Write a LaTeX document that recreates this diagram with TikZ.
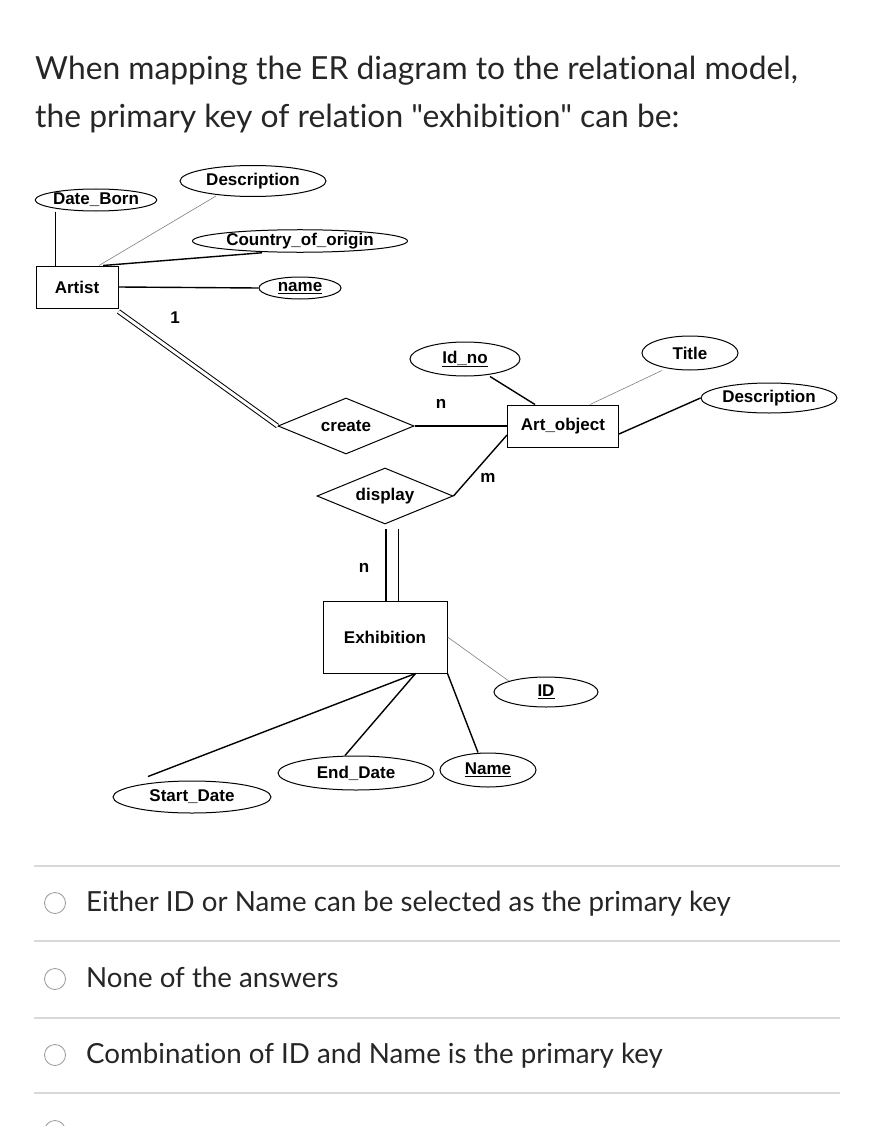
\documentclass[tikz,border=0pt]{standalone}
\usepackage{fontspec}
\newfontfamily\lato{Lato}[Ligatures={NoCommon,NoDiscretionary,NoContextual}]
\newfontfamily\erf{Liberation Sans}
\usetikzlibrary{shapes.geometric}
\begin{document}
\begin{tikzpicture}[x=1pt,y=-1pt,
  er/.style={font=\erf\bfseries\fontsize{17}{19}\selectfont, inner sep=0pt},
  att/.style={er, ellipse, draw, line width=1pt},
  ent/.style={er, rectangle, draw, line width=1pt},
  rel/.style={er, diamond, draw, line width=1pt, aspect=2.4},
  ln/.style={line width=1.4pt},
  thin/.style={line width=0.6pt, gray},
  dbl/.style={double, double distance=3pt, line width=1pt},
  card/.style={er},
  q/.style={font=\lato\fontsize{31.8}{36}\selectfont, text=black!85, anchor=base west, inner sep=0pt},
  opt/.style={font=\lato\fontsize{27.7}{30}\selectfont, text=black!85, anchor=base west, inner sep=0pt},
  sep/.style={line width=1.3pt, black!15},
  radio/.style={circle, draw=black!40, line width=0.8pt, minimum size=21pt, inner sep=0pt}]
\useasboundingbox (0,0) rectangle (878,1126);
\fill[white] (0,0) rectangle (878,1126);
\node[q] (t1) at (35,80) {When mapping the ER diagram to the relational model,};
\node[q] (t2) at (35,128) {the primary key of relation "exhibition" can be:};

\node[att, minimum width=120pt, minimum height=22pt] (db) at (96,200) {Date\_Born};
\node[att, minimum width=146pt, minimum height=31pt] (desc) at (253,181) {Description};
\node[att, minimum width=215pt, minimum height=22pt] (coo) at (300,241) {Country\_of\_origin};
\node[ent, minimum width=82pt, minimum height=42pt] (artist) at (77,287) {Artist};
\node[att, minimum width=82pt, minimum height=22pt] (name) at (300,288) {\underline{name}};
\node[card] (c1) at (175,318) {1};
\node[rel, minimum width=136pt, minimum height=56pt] (create) at (346,426) {create};
\node[att, minimum width=110pt, minimum height=34pt] (idno) at (465,359) {\underline{Id\_no}};
\node[card] (cn1) at (441,404) {n};
\node[ent, minimum width=111pt, minimum height=42pt] (art) at (563,426) {Art\_object};
\node[att, minimum width=96pt, minimum height=34pt] (title) at (690,353) {Title};
\node[att, minimum width=136pt, minimum height=30pt] (desc2) at (769,398) {Description};
\node[rel, minimum width=136pt, minimum height=56pt] (display) at (385,496) {display};
\node[card] (cm) at (488,478) {m};
\node[card] (cn2) at (364,568) {n};
\node[ent, minimum width=124pt, minimum height=72pt] (exh) at (385,637) {};
\node[er] (exhl) at (385,637) {Exhibition};
\node[att, minimum width=104pt, minimum height=30pt] (id) at (546,692) {\underline{ID}};
\node[att, minimum width=96pt, minimum height=34pt] (nm) at (488,770) {\underline{Name}};
\node[att, minimum width=156pt, minimum height=34pt] (ed) at (356,773) {End\_Date};
\node[att, minimum width=158pt, minimum height=32pt] (sd) at (192,797) {Start\_Date};

\draw[ln] (db.south -| artist.north west) ++(20,0) coordinate (dbA) -- (dbA |- artist.north);
\draw[thin] (desc.south) ++(-37,-1) coordinate (dsA) -- ([xshift=22pt]artist.north);
\draw[ln] ([xshift=-38pt]coo.south) -- ([xshift=26pt]artist.north);
\draw[ln] (artist.east) -- (name.west);
\draw[dbl] ([yshift=-3pt]artist.south east) -- (create.west);
\draw[ln] (create.east) -- (art.west);
\draw[ln] ([xshift=25pt]idno.south) -- ([xshift=-28pt]art.north);
\draw[thin] ([xshift=-28pt]title.south) -- ([xshift=27pt]art.north);
\draw[ln] (desc2.west) -- ([yshift=-8pt]art.east);
\draw[ln] ([yshift=-9pt]art.west) -- (display.east);
\draw[ln, double=white, double distance=11pt, line width=1.2pt] ([xshift=7pt,yshift=-4pt]display.south) -- ([xshift=7pt]exh.north);
\draw[thin] (exh.east) -- (id.north west);
\draw[ln] ([xshift=-32pt]exh.south east) -- ([xshift=-44pt,yshift=4pt]sd.north);
\draw[ln] ([xshift=-32pt]exh.south east) -- ([xshift=-11pt]ed.north);
\draw[ln] (exh.south east) -- ([xshift=-10pt]nm.north);

\draw[sep] (34,866) coordinate (s1) -- (840,866);
\draw[sep] (34,941) -- (840,941);
\draw[sep] (34,1018) -- (840,1018);
\draw[sep] (34,1093) -- (840,1093);
\node[radio] (r1) at (55,903) {};
\node[radio] (r2) at (55,979) {};
\node[radio] (r3) at (55,1055) {};
\node[radio] (r4) at (55,1131) {};
\node[opt] (o1) at (86,911) {Either ID or Name can be selected as the primary key};
\node[opt] (o2) at (86,987) {None of the answers};
\node[opt] (o3) at (86,1063) {Combination of ID and Name is the primary key};
\end{tikzpicture}
\end{document}
